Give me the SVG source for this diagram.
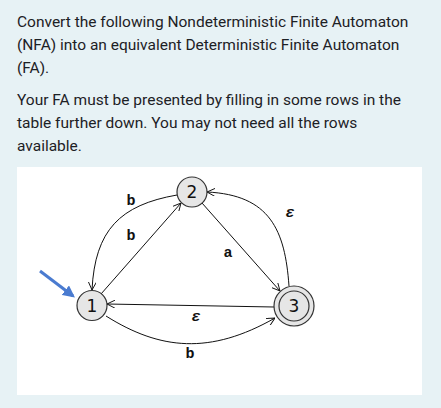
<svg xmlns="http://www.w3.org/2000/svg" width="441" height="408" viewBox="0 0 441 408">
<style>
.t{font-family:Roboto,"Liberation Sans",sans-serif;font-size:15.5px;fill:#1d2125}
.st circle{fill:#e6e6e6;stroke:#333;stroke-width:1.2}
.lbl{font-family:"Liberation Mono","DejaVu Sans Mono",monospace;font-weight:bold;font-size:15px;fill:#111;text-anchor:middle}
.num{font-family:"DejaVu Sans","Liberation Sans",sans-serif;font-size:17px;fill:#111;text-anchor:middle}
.e{fill:none;stroke:#111;stroke-width:1}
</style>
<defs>
<marker id="ah" viewBox="0 0 10 10" refX="10" refY="5" markerWidth="8" markerHeight="8" orient="auto" markerUnits="userSpaceOnUse">
<path d="M0,0 L10,5 L0,10" fill="none" stroke="#111" stroke-width="1.2"/>
</marker>
<marker id="bh" viewBox="0 0 10 10" refX="8" refY="5" markerWidth="4" markerHeight="4" orient="auto">
<path d="M0,0 L10,5 L0,10 z" fill="#4a7bd0"/>
</marker>
</defs>
<rect width="441" height="408" fill="#e7f2f5"/>
<text class="t" x="17" y="27">Convert the following Nondeterministic Finite Automaton</text>
<text class="t" x="17" y="50">(NFA) into an equivalent Deterministic Finite Automaton</text>
<text class="t" x="17" y="73">(FA).</text>
<text class="t" x="17" y="105">Your FA must be presented by filling in some rows in the</text>
<text class="t" x="17" y="128">table further down. You may not need all the rows</text>
<text class="t" x="17" y="151">available.</text>
<rect x="17" y="167" width="405" height="228" fill="#fff"/>
<g id="connectors">
<path class="e" d="M177,195 C120,205 95,230 92,290" marker-end="url(#ah)"/>
<path class="e" d="M101,294 L181,203" marker-end="url(#ah)"/>
<path class="e" d="M202,203 L280,291" marker-end="url(#ah)"/>
<path class="e" d="M289,286 C285,230 270,195 207,192" marker-end="url(#ah)"/>
<path class="e" d="M274,307 L107,304" marker-end="url(#ah)"/>
<path class="e" d="M106,316 C160,350 210,355 275,318" marker-end="url(#ah)"/>
<path d="M40,271 L73,296" stroke="#4a7bd0" stroke-width="3" fill="none" marker-end="url(#bh)"/>
<text class="lbl" x="131" y="205">b</text>
<text class="lbl" x="131" y="240">b</text>
<text class="lbl" x="228" y="257">a</text>
<text class="lbl" x="290" y="217" font-style="italic">ε</text>
<text class="lbl" x="196" y="321" font-style="italic">ε</text>
<text class="lbl" x="190" y="358">b</text>
</g>
<g id="s1" class="st"><circle cx="92" cy="305.5" r="15"/><text class="num" x="92" y="311.5">1</text></g>
<g id="s2" class="st"><circle cx="192" cy="192" r="15"/><text class="num" x="192" y="198">2</text></g>
<g id="s3" class="st"><circle cx="294" cy="306" r="20"/><circle cx="294" cy="306" r="15"/><text class="num" x="294" y="312">3</text></g>
</svg>
